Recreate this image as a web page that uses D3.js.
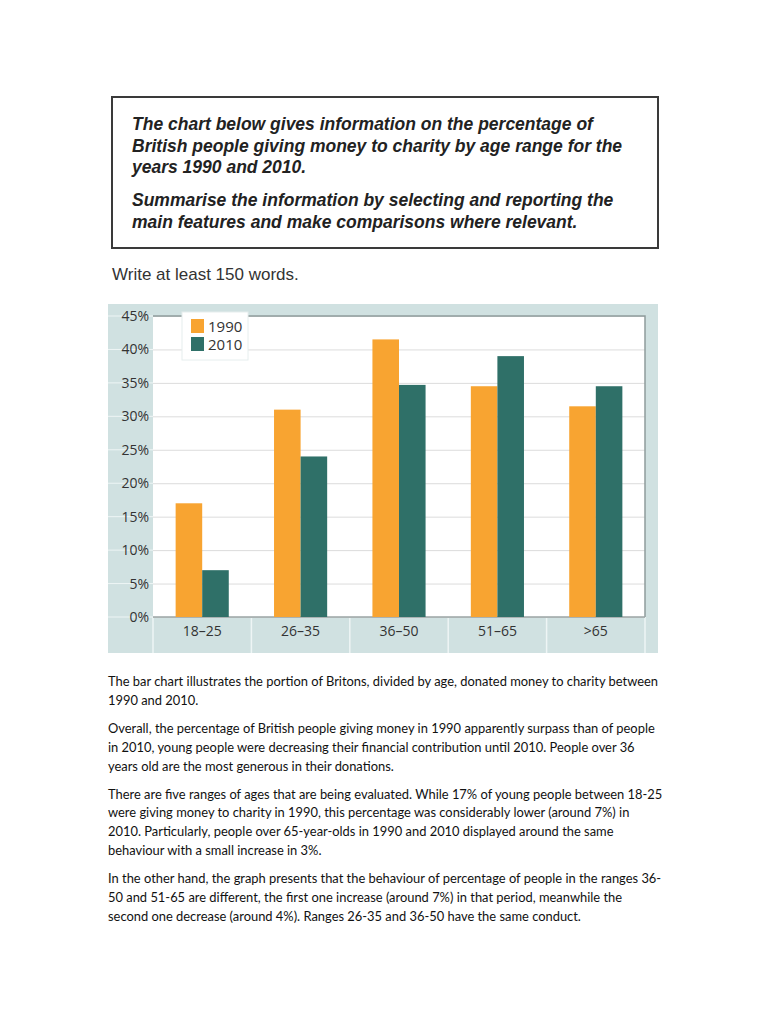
<!DOCTYPE html>
<html>
<head>
<meta charset="utf-8">
<script src="https://cdn.jsdelivr.net/npm/d3@7"></script>
<style>
  body { margin: 0; background: #fff; }
  svg { display: block; }
</style>
</head>
<body>
<svg id="svg" width="768" height="1024"></svg>
<script>
// chart data
var ageGroups = ["18–25", "26–35", "36–50", "51–65", ">65"];
var years = ["1990", "2010"];
var values1990 = [17, 31, 41.5, 34.5, 31.5];
var values2010 = [7, 24, 34.7, 39, 34.5];
var yTicks = [0, 5, 10, 15, 20, 25, 30, 35, 40, 45];

var colors = { "1990": "#f8a431", "2010": "#2f7068" };

var taskLines = [
  "The chart below gives information on the percentage of",
  "British people giving money to charity by age range for the",
  "years 1990 and 2010."
];
var taskLines2 = [
  "Summarise the information by selecting and reporting the",
  "main features and make comparisons where relevant."
];

var essay = [
  ["The bar chart illustrates the portion of Britons, divided by age, donated money to charity between",
   "1990 and 2010."],
  ["Overall, the percentage of British people giving money in 1990 apparently surpass than of people",
   "in 2010, young people were decreasing their financial contribution until 2010. People over 36",
   "years old are the most generous in their donations."],
  ["There are five ranges of ages that are being evaluated. While 17% of young people between 18-25",
   "were giving money to charity in 1990, this percentage was considerably lower (around 7%) in",
   "2010. Particularly, people over 65-year-olds in 1990 and 2010 displayed around the same",
   "behaviour with a small increase in 3%."],
  ["In the other hand, the graph presents that the behaviour of percentage of people in the ranges 36-",
   "50 and 51-65 are different, the first one increase (around 7%) in that period, meanwhile the",
   "second one decrease (around 4%). Ranges 26-35 and 36-50 have the same conduct."]
];

var svg = d3.select("#svg");

// task box
svg.append("rect")
    .attr("x", 112).attr("y", 97)
    .attr("width", 546).attr("height", 151)
    .attr("fill", "#fff")
    .attr("stroke", "#3a3a3a")
    .attr("stroke-width", 2);

svg.append("g").selectAll("text")
    .data(taskLines.concat(taskLines2))
    .enter().append("text")
    .attr("x", 132)
    .attr("y", function(d, i) { return i < 3 ? 130 + i * 21.5 : 206 + (i - 3) * 21.5; })
    .attr("font-family", "Liberation Sans, Arial, sans-serif")
    .attr("font-size", "17.5px")
    .attr("font-weight", "bold")
    .attr("font-style", "italic")
    .attr("fill", "#222")
    .text(function(d) { return d; });

svg.append("text")
    .attr("x", 112).attr("y", 280)
    .attr("font-family", "Liberation Sans, Arial, sans-serif")
    .attr("font-size", "17px")
    .attr("fill", "#333")
    .text("Write at least 150 words.");

// chart panel
var panel = { x: 108, y: 304, w: 550, h: 349 };
var plot = { left: 153, right: 645, top: 316, bottom: 617 };

svg.append("rect")
    .attr("x", panel.x).attr("y", panel.y)
    .attr("width", panel.w).attr("height", panel.h)
    .attr("fill", "#d0e1e1");

var x0 = d3.scaleBand()
    .domain(ageGroups)
    .range([plot.left, plot.right])
    .padding(0);

var x1 = d3.scaleBand()
    .domain(years)
    .range([x0.bandwidth() * 0.23, x0.bandwidth() * 0.77])
    .padding(0);

var y = d3.scaleLinear()
    .domain([0, 45])
    .range([plot.bottom, plot.top]);

// white tick lines in the label strip
svg.append("g").selectAll("line")
    .data(yTicks)
    .enter().append("line")
    .attr("x1", panel.x).attr("x2", plot.left)
    .attr("y1", function(d) { return y(d); })
    .attr("y2", function(d) { return y(d); })
    .attr("stroke", "#eef5f5")
    .attr("stroke-width", 1);

// category strip separators
svg.append("g").selectAll("line")
    .data(ageGroups.concat(["end"]))
    .enter().append("line")
    .attr("x1", function(d) { return d === "end" ? plot.right : x0(d); })
    .attr("x2", function(d) { return d === "end" ? plot.right : x0(d); })
    .attr("y1", plot.bottom)
    .attr("y2", panel.y + panel.h)
    .attr("stroke", "#eef5f5")
    .attr("stroke-width", 1.5);

// plot area
svg.append("rect")
    .attr("x", plot.left).attr("y", plot.top)
    .attr("width", plot.right - plot.left)
    .attr("height", plot.bottom - plot.top)
    .attr("fill", "#fff");

// gridlines
svg.append("g")
    .attr("transform", "translate(" + plot.left + ",0)")
    .call(d3.axisLeft(y).tickValues(yTicks).tickSize(-(plot.right - plot.left)).tickFormat(""))
    .call(function(g) { g.select(".domain").remove(); })
    .call(function(g) { g.selectAll("line").attr("stroke", "#dcdcdc"); });

// frame: top and right edges, baseline
svg.append("path")
    .attr("d", d3.line()([[plot.left, plot.top], [plot.right, plot.top], [plot.right, plot.bottom]]))
    .attr("fill", "none")
    .attr("stroke", "#8e9c9c")
    .attr("stroke-width", 1.5);

svg.append("line")
    .attr("x1", plot.left).attr("x2", plot.right)
    .attr("y1", plot.bottom).attr("y2", plot.bottom)
    .attr("stroke", "#9aa5a5")
    .attr("stroke-width", 1.5);

// bars
var rows = ageGroups.map(function(a, i) {
  return { group: a, vals: [{ year: "1990", v: values1990[i] }, { year: "2010", v: values2010[i] }] };
});

svg.append("g").selectAll("g")
    .data(rows)
    .enter().append("g")
    .attr("transform", function(d) { return "translate(" + x0(d.group) + ",0)"; })
    .selectAll("rect")
    .data(function(d) { return d.vals; })
    .enter().append("rect")
    .attr("x", function(d) { return x1(d.year); })
    .attr("width", x1.bandwidth())
    .attr("y", function(d) { return y(d.v); })
    .attr("height", function(d) { return y(0) - y(d.v); })
    .attr("fill", function(d) { return colors[d.year]; });

// y axis labels
svg.append("g")
    .attr("transform", "translate(" + (plot.left - 4) + ",0)")
    .call(d3.axisLeft(y).tickValues(yTicks).tickSize(0).tickPadding(0).tickFormat(function(d) { return d + "%"; }))
    .call(function(g) { g.select(".domain").remove(); })
    .call(function(g) {
      g.selectAll("text")
        .attr("font-family", "Open Sans, sans-serif")
        .attr("font-size", "14px")
        .attr("fill", "#333");
    });

// x axis labels
svg.append("g")
    .attr("transform", "translate(0," + (plot.bottom + 9) + ")")
    .call(d3.axisBottom(x0).tickSize(0).tickPadding(0))
    .call(function(g) { g.select(".domain").remove(); })
    .call(function(g) {
      g.selectAll("text")
        .attr("font-family", "Open Sans, sans-serif")
        .attr("font-size", "14px")
        .attr("fill", "#333");
    });

// legend
var legend = svg.append("g").attr("transform", "translate(182,312)");
legend.append("rect")
    .attr("width", 66).attr("height", 48)
    .attr("fill", "#fff")
    .attr("stroke", "#e6eeee");
var li = legend.selectAll("g.item")
    .data(years)
    .enter().append("g")
    .attr("class", "item")
    .attr("transform", function(d, i) { return "translate(9," + (7 + i * 18) + ")"; });
li.append("rect")
    .attr("width", 13).attr("height", 14)
    .attr("fill", function(d) { return colors[d]; });
li.append("text")
    .attr("x", 17).attr("y", 12.5)
    .attr("font-family", "Open Sans, sans-serif")
    .attr("font-size", "15px")
    .attr("fill", "#333")
    .text(function(d) { return d; });

// essay text
var essayG = svg.append("g");
var paraY = [686, 733, 798.5, 883];
essay.forEach(function(lines, p) {
  lines.forEach(function(line, i) {
    essayG.append("text")
        .attr("x", 108)
        .attr("y", paraY[p] + i * 18.8)
        .attr("font-family", "Lato, sans-serif")
        .attr("font-size", "13.5px")
        .attr("fill", "#111")
        .text(line);
  });
});

// squeeze essay lines to the width of the scanned font
var texts = essayG.selectAll("text").nodes();
var factor = 550 / texts[0].getComputedTextLength();
texts.forEach(function(t) {
  var w = t.getComputedTextLength();
  t.setAttribute("textLength", w * factor);
  t.setAttribute("lengthAdjust", "spacingAndGlyphs");
});
</script>
</body>
</html>
